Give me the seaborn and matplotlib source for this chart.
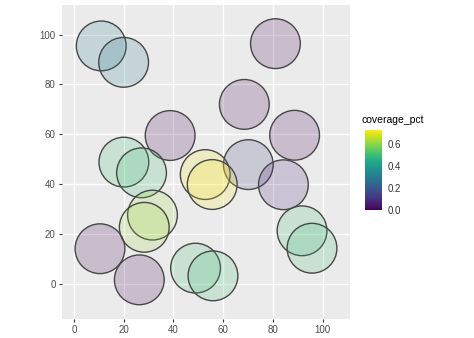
import numpy as np
import pandas as pd
import matplotlib
matplotlib.use("Agg")
import matplotlib.pyplot as plt
from matplotlib.patches import Circle
from matplotlib.colors import Normalize
from matplotlib.cm import ScalarMappable
import seaborn as sns

x_center = [11, 20, 81, 68.5, 38.7, 88.7, 20.1, 27.2, 70.1, 52.8,
            55.6, 84.2, 31.6, 28.3, 10.5, 26.3, 48.9, 55.9, 91.7, 95.7]
y_center = [95.5, 88.9, 96.4, 72, 59.5, 59.6, 48.8, 44.5, 47.8, 43.8,
            39.8, 39.7, 27.5, 22.6, 14, 1.5, 6.2, 3.1, 21.2, 14.2]
coverage_pct = [0.30, 0.30, 0.0, 0.0, 0.0, 0.0, 0.50, 0.50, 0.14, 0.73,
                0.73, 0.07, 0.62, 0.62, 0.0, 0.0, 0.50, 0.50, 0.50, 0.50]
radius = [10] * 20
x_ticks = [0, 20, 40, 60, 80, 100]
y_ticks = [0, 20, 40, 60, 80, 100]
cbar_ticks = [0.0, 0.2, 0.4, 0.6]

df = pd.DataFrame({"x": x_center, "y": y_center, "r": radius, "coverage_pct": coverage_pct})

sns.set_theme(style="darkgrid", rc={
    "axes.facecolor": "#EBEBEB",
    "grid.color": "white",
    "grid.linewidth": 1.0,
    "axes.edgecolor": "#EBEBEB",
})
plt.rcParams["font.family"] = ["Liberation Sans", "DejaVu Sans"]

fig = plt.figure(figsize=(4.74, 3.38), dpi=100)
W, H = 474, 338
ax = fig.add_axes([62 / W, 19 / H, 288 / W, 314.5 / H])

cmap = sns.color_palette("viridis", as_cmap=True)
vmin, vmax = 0.0, max(coverage_pct)
norm = Normalize(vmin=vmin, vmax=vmax)

for _, row in df.iterrows():
    col = cmap(norm(row["coverage_pct"]))
    ax.add_patch(Circle((row["x"], row["y"]), row["r"],
                        facecolor=(col[0], col[1], col[2], 0.2),
                        edgecolor="#474747", linewidth=1.0, zorder=3))

xmin = min(df.x - df.r); xmax = max(df.x + df.r)
ymin = min(df.y - df.r); ymax = max(df.y + df.r)
ex = (xmax - xmin) * 0.05; ey = (ymax - ymin) * 0.05
ax.set_xlim(xmin - ex, xmax + ex)
ax.set_ylim(ymin - ey, ymax + ey)
ax.set_aspect("equal", adjustable="datalim")
ax.set_xticks(x_ticks)
ax.set_yticks(y_ticks)
ax.tick_params(axis="both", which="major", length=2.5, width=0.8, color="#333333",
               labelsize=7, labelcolor="#4D4D4D", pad=2, bottom=True, left=True)
for s in ax.spines.values():
    s.set_visible(False)
ax.set_xlabel("")
ax.set_ylabel("")

cax = fig.add_axes([365 / W, (H - 210) / H, 17 / W, 80 / H])
sm = ScalarMappable(norm=norm, cmap=cmap)
cb = fig.colorbar(sm, cax=cax)
cb.outline.set_visible(False)
cb.set_ticks(cbar_ticks)
cb.set_ticklabels([f"{t:.1f}" for t in cbar_ticks])
cax.tick_params(axis="y", which="major", direction="in", length=3, width=0.8,
                color="white", labelsize=7, labelcolor="#333333", pad=4,
                left=True, right=True)
fig.text(362 / W, (H - 120) / H, "coverage_pct", fontsize=7.5, color="black",
         ha="left", va="center")

fig.savefig("out.png", dpi=100, facecolor="white")
